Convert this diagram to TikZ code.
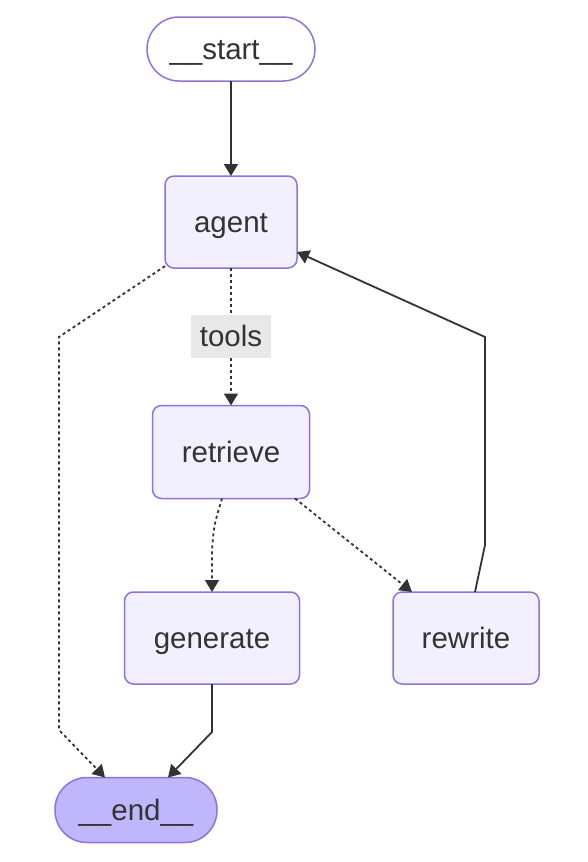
\documentclass[tikz,border=0pt]{standalone}
\usepackage{fontspec}
\setmainfont{Liberation Sans}
\usetikzlibrary{arrows.meta}
\definecolor{nodefill}{HTML}{F2F0FF}
\definecolor{nodeline}{HTML}{9370DB}
\definecolor{endfill}{HTML}{BFB6FC}
\definecolor{ink}{HTML}{333333}
\definecolor{lblfill}{HTML}{E8E8E8}
\tikzset{
  base/.style={draw=nodeline, line width=1.5pt, text=ink, font=\fontsize{29.5}{35}\selectfont,
    text height=27pt, text depth=7pt, inner sep=0pt, outer sep=0pt},
  boxnode/.style={base, fill=nodefill, rounded corners=9pt},
  pill/.style={base, rounded corners=32pt, minimum height=64pt},
  edge/.style={draw=ink, line width=1.8pt, -{Triangle[length=12pt,width=14pt]}},
  dotedge/.style={edge, dash pattern=on 3pt off 3pt},
  lbl/.style={fill=lblfill, text=ink, font=\fontsize{29.5}{35}\selectfont, inner xsep=8.5pt,
    text height=27pt, text depth=7pt, minimum height=43pt, inner ysep=0pt}
}
\begin{document}
\begin{tikzpicture}[x=1pt,y=-1pt]
\useasboundingbox (0,0) rectangle (587,862);
\node[pill, fill=white, minimum width=168pt] (start) at (231,49) {\_\_start\_\_};
\node[boxnode, minimum width=132pt, minimum height=92pt] (agent) at (231,222) {agent};
\node[boxnode, minimum width=157pt, minimum height=93pt] (retrieve) at (231,452) {retrieve};
\node[boxnode, minimum width=175pt, minimum height=92pt] (generate) at (212,638) {generate};
\node[boxnode, minimum width=146pt, minimum height=92pt] (rewrite) at (466,638) {rewrite};
\node[pill, fill=endfill, minimum width=162pt, minimum height=65pt] (end) at (136,810) {\_\_end\_\_};

\coordinate (a1) at (59,337);
\coordinate (a2) at (59,730);
\coordinate (g1) at (212,732);
\coordinate (r1) at (212,550);
\coordinate (w1) at (485,545);
\coordinate (w2) at (485,337);

\draw[edge] (start) -- (agent);
\draw[dotedge] (agent) -- (a1) -- (a2) -- ([xshift=-31pt]end.north);
\draw[dotedge] (agent) -- node[lbl] (tools) {tools} (retrieve);
\draw[dotedge] ([xshift=-9pt]retrieve.south) .. controls (214,525) .. (r1) -- (generate.north);
\draw[dotedge] ([xshift=64pt]retrieve.south) -- ([xshift=-54pt]rewrite.north);
\draw[edge] ([xshift=9pt]rewrite.north) -- (w1) -- (w2) -- ([yshift=-30pt]agent.east);
\draw[edge] (generate.south) -- (g1) -- ([xshift=32pt]end.north);
\end{tikzpicture}
\end{document}
